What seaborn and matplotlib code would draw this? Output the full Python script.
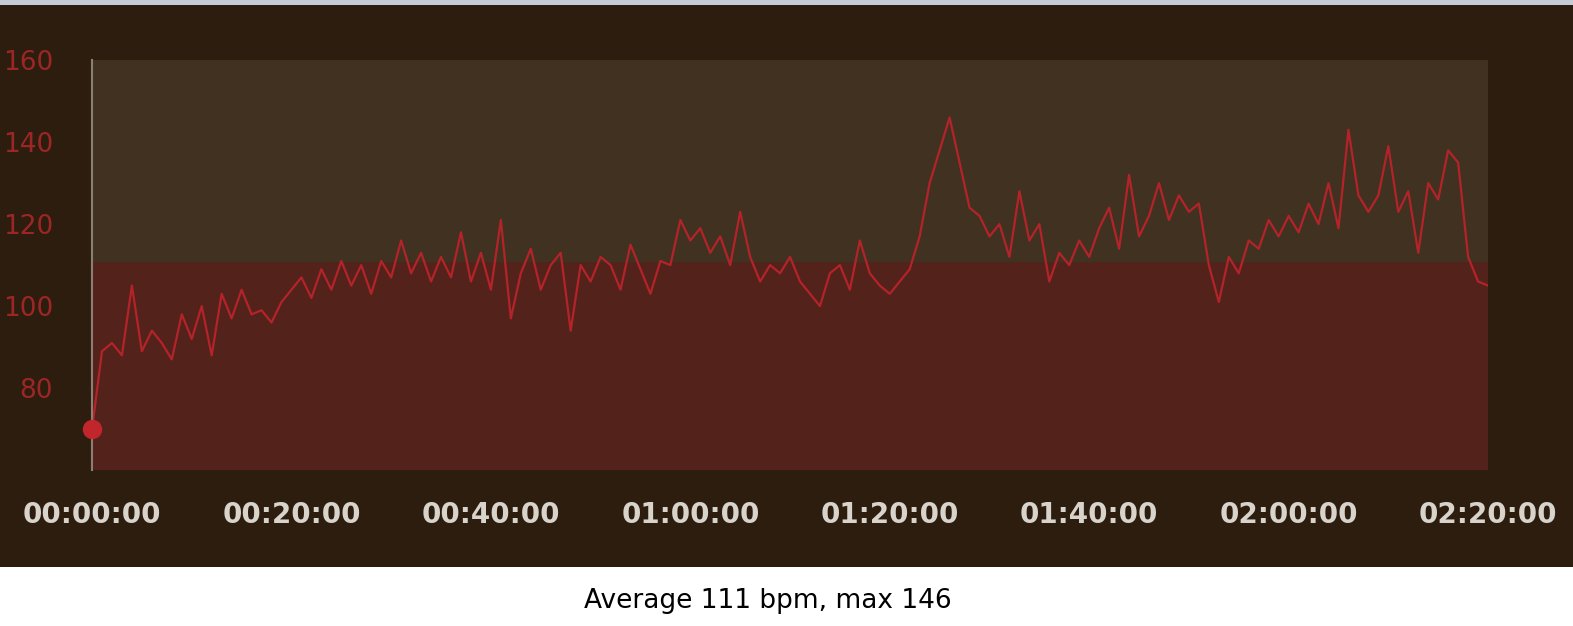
import matplotlib
matplotlib.use("Agg")
import matplotlib.pyplot as plt
import seaborn as sns
import pandas as pd

# heart rate per minute
minutes = list(range(141))
bpm = [70, 89, 91, 88, 105, 89, 94, 91, 87, 98,
       92, 100, 88, 103, 97, 104, 98, 99, 96, 101,
       104, 107, 102, 109, 104, 111, 105, 110, 103, 111,
       107, 116, 108, 113, 106, 112, 107, 118, 106, 113,
       104, 121, 97, 108, 114, 104, 110, 113, 94, 110,
       106, 112, 110, 104, 115, 109, 103, 111, 110, 121,
       116, 119, 113, 117, 110, 123, 112, 106, 110, 108,
       112, 106, 103, 100, 108, 110, 104, 116, 108, 105,
       103, 106, 109, 117, 130, 138, 146, 135, 124, 122,
       117, 120, 112, 128, 116, 120, 106, 113, 110, 116,
       112, 119, 124, 114, 132, 117, 122, 130, 121, 127,
       123, 125, 110, 101, 112, 108, 116, 114, 121, 117,
       122, 118, 125, 120, 130, 119, 143, 127, 123, 127,
       139, 123, 128, 113, 130, 126, 138, 135, 112, 106,
       105]
average = 111
y_ticks = [80, 100, 120, 140, 160]
x_ticks = [0, 20, 40, 60, 80, 100, 120, 140]
x_labels = ["00:00:00", "00:20:00", "00:40:00", "01:00:00",
            "01:20:00", "01:40:00", "02:00:00", "02:20:00"]

df = pd.DataFrame({"minute": minutes, "bpm": bpm})

fig = plt.figure(figsize=(15.73, 6.26), dpi=100, facecolor="white")

# dark card background and thin strip on top
bg = fig.add_axes([0, 0.094, 1, 0.898], zorder=-2)
bg.set_facecolor("#2d1d0e")
bg.set_xticks([]); bg.set_yticks([])
for sp in bg.spines.values():
    sp.set_visible(False)
strip = fig.add_axes([0, 0.992, 1, 0.008], zorder=-2)
strip.set_facecolor("#c5ccd6")
strip.set_xticks([]); strip.set_yticks([])
for sp in strip.spines.values():
    sp.set_visible(False)

ax = fig.add_axes([0.0585, 0.249, 0.8875, 0.655])
ax.set_facecolor("none")
ax.axhspan(60, average, color="#52221b", zorder=0)
ax.axhspan(average, 160, color="#413120", zorder=0)

sns.lineplot(data=df, x="minute", y="bpm", ax=ax, color="#b5232a", linewidth=1.6)
ax.plot(0, bpm[0], "o", color="#c0262b", markersize=13, clip_on=False, zorder=5)

ax.set_xlim(0, 140)
ax.set_ylim(60, 160)
ax.set_yticks(y_ticks)
ax.set_yticklabels([str(v) for v in y_ticks], color="#9c2626", fontsize=19)
ax.set_xticks(x_ticks)
ax.set_xticklabels(x_labels, color="#d8d4cc", fontsize=20, fontweight="bold")
ax.tick_params(length=0)
ax.tick_params(axis="x", pad=22)
ax.tick_params(axis="y", pad=28)
for sp in ["top", "right", "bottom"]:
    ax.spines[sp].set_visible(False)
ax.spines["left"].set_color("#8a7f74")
ax.spines["left"].set_linewidth(1.5)
ax.set_xlabel("")
ax.set_ylabel("")

fig.text(0.488, 0.04, "Average 111 bpm, max 146", ha="center", va="center",
         fontsize=19, color="black")

fig.savefig("out.png", dpi=100)
